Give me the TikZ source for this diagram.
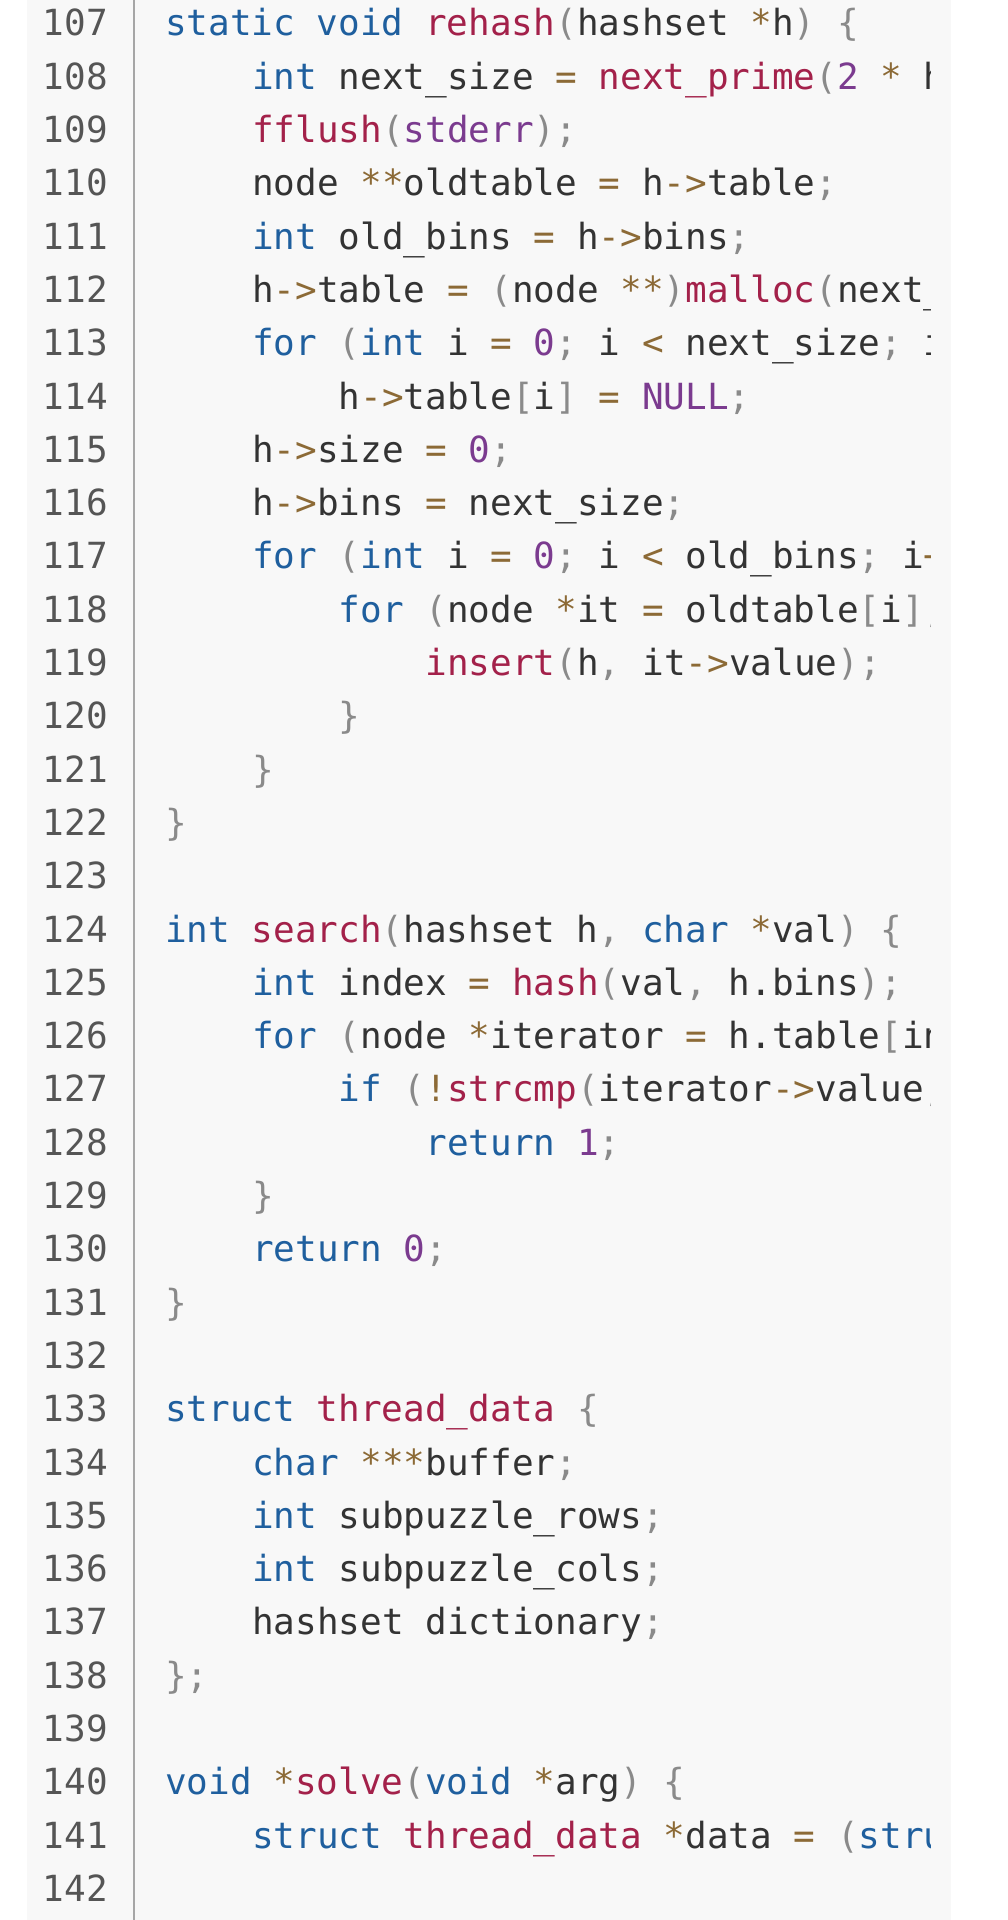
\documentclass[tikz,border=0pt]{standalone}
\usepackage{fontspec}
\newfontfamily\codefont{DejaVu Sans Mono}
\definecolor{kwc}{HTML}{1F5F9E}
\definecolor{fnc}{HTML}{A3214A}
\definecolor{nmc}{HTML}{7B3B8F}
\definecolor{opc}{HTML}{8C6A36}
\definecolor{puc}{HTML}{8A8A8A}
\definecolor{txc}{HTML}{333333}
\definecolor{panel}{HTML}{F8F8F8}
\definecolor{numc}{HTML}{555555}
\newcommand\kw[1]{\textcolor{kwc}{#1}}
\newcommand\fn[1]{\textcolor{fnc}{#1}}
\newcommand\nm[1]{\textcolor{nmc}{#1}}
\newcommand\op[1]{\textcolor{opc}{#1}}
\newcommand\pu[1]{\textcolor{puc}{#1}}
\tikzset{code/.style={font=\codefont\fontsize{36}{40}\selectfont, text=txc, inner sep=0pt, anchor=base west},
 num/.style={font=\codefont\fontsize{36}{40}\selectfont, text=numc, inner sep=0pt, anchor=base east}}
\newcommand\codeline[3]{%
 \node[code] (c#1) at ({165+21.7*#2}, {1920-36-53.3*#1}) {#3};}
\begin{document}
\begin{tikzpicture}[x=1pt,y=1pt]
\useasboundingbox (0,0) rectangle (1007,1920);
\fill[white] (0,0) rectangle (1007,1920);
\fill[panel] (27,0) rectangle (951,1920);
\draw[line width=2pt, color=gray!70] (134,0) -- (134,1920);
\foreach \i in {0,...,35} {
 \pgfmathtruncatemacro\lbl{107+\i}
 \node[num] (n\i) at (108, {1920-36-53.3*\i}) {\lbl};
}
\begin{scope}
\clip (27,0) rectangle (930,1920);
\codeline{0}{0}{\kw{static} \kw{void} \fn{rehash}\pu{(}hashset \op{*}h\pu{)} \pu{\{}}
\codeline{1}{4}{\kw{int} next\_size \op{=} \fn{next\_prime}\pu{(}\nm{2} \op{*} h\op{->}bins}
\codeline{2}{4}{\fn{fflush}\pu{(}\nm{stderr}\pu{);}}
\codeline{3}{4}{node \op{**}oldtable \op{=} h\op{->}table\pu{;}}
\codeline{4}{4}{\kw{int} old\_bins \op{=} h\op{->}bins\pu{;}}
\codeline{5}{4}{h\op{->}table \op{=} \pu{(}node \op{**}\pu{)}\fn{malloc}\pu{(}next\_size}
\codeline{6}{4}{\kw{for} \pu{(}\kw{int} i \op{=} \nm{0}\pu{;} i \op{<} next\_size\pu{;} i\op{++}}
\codeline{7}{8}{h\op{->}table\pu{[}i\pu{]} \op{=} \nm{NULL}\pu{;}}
\codeline{8}{4}{h\op{->}size \op{=} \nm{0}\pu{;}}
\codeline{9}{4}{h\op{->}bins \op{=} next\_size\pu{;}}
\codeline{10}{4}{\kw{for} \pu{(}\kw{int} i \op{=} \nm{0}\pu{;} i \op{<} old\_bins\pu{;} i\op{++}}
\codeline{11}{8}{\kw{for} \pu{(}node \op{*}it \op{=} oldtable\pu{[}i\pu{];}}
\codeline{12}{12}{\fn{insert}\pu{(}h\pu{,} it\op{->}value\pu{);}}
\codeline{13}{8}{\pu{\}}}
\codeline{14}{4}{\pu{\}}}
\codeline{15}{0}{\pu{\}}}
\codeline{17}{0}{\kw{int} \fn{search}\pu{(}hashset h\pu{,} \kw{char} \op{*}val\pu{)} \pu{\{}}
\codeline{18}{4}{\kw{int} index \op{=} \fn{hash}\pu{(}val\pu{,} h.bins\pu{);}}
\codeline{19}{4}{\kw{for} \pu{(}node \op{*}iterator \op{=} h.table\pu{[}index}
\codeline{20}{8}{\kw{if} \pu{(}\op{!}\fn{strcmp}\pu{(}iterator\op{->}value\pu{,}}
\codeline{21}{12}{\kw{return} \nm{1}\pu{;}}
\codeline{22}{4}{\pu{\}}}
\codeline{23}{4}{\kw{return} \nm{0}\pu{;}}
\codeline{24}{0}{\pu{\}}}
\codeline{26}{0}{\kw{struct} \fn{thread\_data} \pu{\{}}
\codeline{27}{4}{\kw{char} \op{***}buffer\pu{;}}
\codeline{28}{4}{\kw{int} subpuzzle\_rows\pu{;}}
\codeline{29}{4}{\kw{int} subpuzzle\_cols\pu{;}}
\codeline{30}{4}{hashset dictionary\pu{;}}
\codeline{31}{0}{\pu{\};}}
\codeline{33}{0}{\kw{void} \op{*}\fn{solve}\pu{(}\kw{void} \op{*}arg\pu{)} \pu{\{}}
\codeline{34}{4}{\kw{struct} \fn{thread\_data} \op{*}data \op{=} \pu{(}\kw{struct}}
\end{scope}
\end{tikzpicture}
\end{document}
